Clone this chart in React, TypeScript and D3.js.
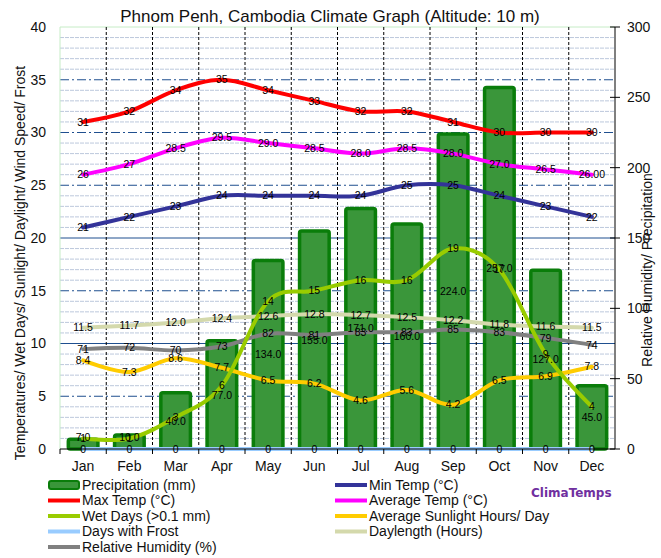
import React, { useEffect } from 'react';
import * as d3 from 'd3';

const months = ['Jan', 'Feb', 'Mar', 'Apr', 'May', 'Jun', 'Jul', 'Aug', 'Sep', 'Oct', 'Nov', 'Dec'];

const precipitation = [7.0, 10.0, 40.0, 77.0, 134.0, 155.0, 171.0, 160.0, 224.0, 257.0, 127.0, 45.0];
const maxTemp = [31, 32, 34, 35, 34, 33, 32, 32, 31, 30, 30, 30];
const avgTemp = [26, 27, 28.5, 29.5, 29.0, 28.5, 28.0, 28.5, 28.0, 27.0, 26.5, 26.0];
const avgTempLabels = ['26', '27', '28.5', '29.5', '29.0', '28.5', '28.0', '28.5', '28.0', '27.0', '26.5', '26.00'];
const minTemp = [21, 22, 23, 24, 24, 24, 24, 25, 25, 24, 23, 22];
const wetDays = [1, 1, 3, 6, 14, 15, 16, 16, 19, 17, 9, 4];
const sunlight = [8.4, 7.3, 8.6, 7.7, 6.5, 6.2, 4.6, 5.6, 4.2, 6.5, 6.9, 7.8];
const daylength = [11.5, 11.7, 12.0, 12.4, 12.6, 12.8, 12.7, 12.5, 12.2, 11.8, 11.6, 11.5];
const frostDays = [0, 0, 0, 0, 0, 0, 0, 0, 0, 0, 0, 0];
const humidity = [71, 72, 70, 73, 82, 81, 83, 83, 85, 83, 79, 74];

const leftTicks = [0, 5, 10, 15, 20, 25, 30, 35, 40];
const rightTicks = [0, 50, 100, 150, 200, 250, 300];

const FONT = 'Arial, "Liberation Sans", sans-serif';

const W = 661;
const H = 558;
const plot = { left: 60, right: 615, top: 27, bottom: 449 };

const x = d3.scaleBand<string>().domain(months).range([plot.left, plot.right]);
const yL = d3.scaleLinear().domain([0, 40]).range([plot.bottom, plot.top]);
const yR = d3.scaleLinear().domain([0, 300]).range([plot.bottom, plot.top]);
const cx = (m: string) => (x(m) as number) + x.bandwidth() / 2;

const smooth = d3.curveCardinal.tension(0);

type Series = {
  name: string;
  values: number[];
  labels: string[];
  color: string;
  axis: 'L' | 'R';
};

const fmt0 = (v: number) => d3.format('d')(v);
const fmt1 = (v: number) => d3.format('.1f')(v);

// drawing order: later series sit on top
const lineSeries: Series[] = [
  { name: 'Days with Frost', values: frostDays, labels: frostDays.map(fmt0), color: '#99ccff', axis: 'L' },
  { name: 'Relative Humidity (%)', values: humidity, labels: humidity.map(fmt0), color: '#808080', axis: 'R' },
  { name: 'Daylength (Hours)', values: daylength, labels: daylength.map(fmt1), color: '#d4d9ac', axis: 'L' },
  { name: 'Average Sunlight Hours/ Day', values: sunlight, labels: sunlight.map(fmt1), color: '#ffcc00', axis: 'L' },
  { name: 'Wet Days (>0.1 mm)', values: wetDays, labels: wetDays.map(fmt0), color: '#99cc00', axis: 'L' },
  { name: 'Min Temp (°C)', values: minTemp, labels: minTemp.map(fmt0), color: '#333399', axis: 'L' },
  { name: 'Average Temp (°C)', values: avgTemp, labels: avgTempLabels, color: '#ff00ff', axis: 'L' },
  { name: 'Max Temp (°C)', values: maxTemp, labels: maxTemp.map(fmt0), color: '#ff0000', axis: 'L' },
];

const legendItems = [
  { name: 'Precipitation (mm)', color: '#2e8b2e', col: 0, row: 0, bar: true },
  { name: 'Min Temp (°C)', color: '#333399', col: 1, row: 0 },
  { name: 'Max Temp (°C)', color: '#ff0000', col: 0, row: 1 },
  { name: 'Average Temp (°C)', color: '#ff00ff', col: 1, row: 1 },
  { name: 'Wet Days (>0.1 mm)', color: '#99cc00', col: 0, row: 2 },
  { name: 'Average Sunlight Hours/ Day', color: '#ffcc00', col: 1, row: 2 },
  { name: 'Days with Frost', color: '#99ccff', col: 0, row: 3 },
  { name: 'Daylength (Hours)', color: '#d4d9ac', col: 1, row: 3 },
  { name: 'Relative Humidity (%)', color: '#808080', col: 0, row: 4 },
];

export default function App() {
  useEffect(() => {
    document.body.style.margin = '0';
  }, []);

  const minor = d3.range(1, 40).filter((v) => v % 5 !== 0);
  const barW = x.bandwidth() * 0.64;

  return (
    <svg width={W} height={H} style={{ display: 'block', background: '#fff' }} fontFamily={FONT}>
      <rect width={W} height={H} fill="#fff" />

      {/* title */}
      <text x={330} y={22} textAnchor="middle" fontSize={17} fill="#111">
        Phnom Penh, Cambodia Climate Graph (Altitude: 10 m)
      </text>

      {/* minor grid */}
      {minor.map((v) => (
        <line key={'m' + v} x1={plot.left} x2={plot.right} y1={yL(v)} y2={yL(v)}
          stroke="#bcc8dc" strokeWidth={1} strokeDasharray="4,1" />
      ))}
      {/* major grid */}
      {leftTicks.filter((v) => v > 0 && v < 40).map((v) => (
        <line key={'g' + v} x1={plot.left} x2={plot.right} y1={yL(v)} y2={yL(v)}
          stroke="#1f4f8f" strokeWidth={1}
          strokeDasharray={v === 10 || v === 20 ? undefined : '9,3,2,3'} />
      ))}
      {/* plot frame */}
      <line x1={plot.left} x2={plot.right} y1={plot.top} y2={plot.top} stroke="#c6ecc6" />
      <line x1={plot.left} x2={plot.left} y1={plot.top} y2={plot.bottom} stroke="#c6ecc6" />

      {/* month separators */}
      {months.slice(1).map((m) => (
        <line key={'v' + m} x1={x(m)} x2={x(m)} y1={plot.top} y2={plot.bottom}
          stroke="#000" strokeWidth={1} strokeDasharray="3,2" />
      ))}

      {/* precipitation bars */}
      {precipitation.map((v, i) => (
        <rect key={'b' + i} x={cx(months[i]) - barW / 2} y={yR(v)} width={barW}
          height={yR(0) - yR(v)} rx={2} fill="#3a963a" stroke="#0a7d0a" strokeWidth={3.5} />
      ))}

      {/* series lines */}
      {lineSeries.map((s) => {
        const y = s.axis === 'L' ? yL : yR;
        const line = d3.line<number>()
          .x((_, i) => cx(months[i]))
          .y((d) => y(d))
          .curve(smooth);
        return (
          <path key={'l' + s.name} d={line(s.values) || ''} fill="none" stroke={s.color}
            strokeWidth={4} strokeLinecap="round" strokeLinejoin="round" />
        );
      })}

      {/* axes */}
      <line x1={plot.left} x2={plot.right} y1={plot.bottom} y2={plot.bottom} stroke="#000" />
      {months.map((m) => (
        <line key={'t' + m} x1={x(m)} x2={x(m)} y1={plot.bottom} y2={plot.bottom + 5} stroke="#000" />
      ))}
      <line x1={plot.right} x2={plot.right} y1={plot.top} y2={plot.bottom} stroke="#000" />
      {rightTicks.map((v) => (
        <g key={'r' + v}>
          <line x1={plot.right - 5} x2={plot.right + 5} y1={yR(v)} y2={yR(v)} stroke="#000" />
          <text x={plot.right + 12} y={yR(v)} dy="0.35em" fontSize={14} fill="#111">{v}</text>
        </g>
      ))}
      {leftTicks.map((v) => (
        <text key={'lt' + v} x={46} y={yL(v)} dy="0.35em" textAnchor="end" fontSize={14} fill="#111">{v}</text>
      ))}
      {months.map((m) => (
        <text key={'ml' + m} x={cx(m)} y={471} textAnchor="middle" fontSize={14} fill="#111">{m}</text>
      ))}

      {/* axis titles */}
      <text transform="translate(25,263) rotate(-90)" textAnchor="middle" fontSize={14} fill="#111">
        Temperatures/ Wet Days/ Sunlight/ Daylight/ Wind Speed/ Frost
      </text>
      <text transform="translate(652,270) rotate(-90)" textAnchor="middle" fontSize={14} fill="#111">
        Relative Humidity/ Precipitation
      </text>

      {/* data labels */}
      <g fontSize={10.5} fill="#000" textAnchor="middle">
        {precipitation.map((v, i) => (
          <text key={'pl' + i} x={cx(months[i])} y={Math.min((yR(v) + yR(0)) / 2, 437)} dy="0.35em">
            {fmt1(v)}
          </text>
        ))}
        {lineSeries.map((s) => {
          const y = s.axis === 'L' ? yL : yR;
          return s.values.map((v, i) => (
            <text key={s.name + i} x={cx(months[i])} y={y(v)} dy="0.35em">{s.labels[i]}</text>
          ));
        })}
      </g>

      {/* legend */}
      <g fontSize={14} fill="#111">
        {legendItems.map((it) => {
          const lx = it.col === 0 ? 48 : 335;
          const ly = 485 + it.row * 15.5;
          return (
            <g key={'lg' + it.name}>
              {it.bar ? (
                <rect x={lx + 1} y={ly - 4} width={30} height={8} rx={2} fill="#3a963a" stroke="#0a7d0a" strokeWidth={2} />
              ) : (
                <line x1={lx} x2={lx + 32} y1={ly} y2={ly} stroke={it.color} strokeWidth={4} />
              )}
              <text x={lx + 34} y={ly} dy="0.35em">{it.name}</text>
            </g>
          );
        })}
      </g>
      <text x={531} y={497} fontSize={12} fontWeight="bold" fill="#7030a0"
        fontFamily='Verdana, "DejaVu Sans", sans-serif'>
        ClimaTemps
      </text>
    </svg>
  );
}
